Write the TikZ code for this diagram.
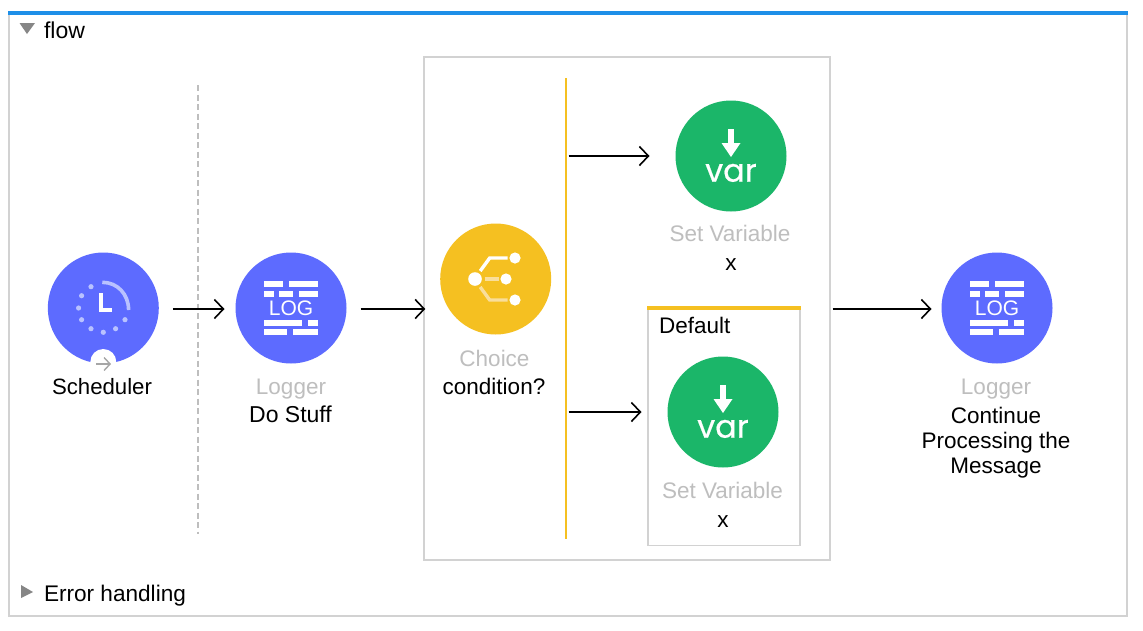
\documentclass[tikz,border=0pt]{standalone}
\usepackage{fontspec}
\setmainfont{Liberation Sans}
\newfontfamily\varfont[FakeBold=0.6]{Poppins}
\usetikzlibrary{arrows.meta}
\definecolor{flowblue}{HTML}{5D6BFF}
\definecolor{gold}{HTML}{F5C021}
\definecolor{vargreen}{HTML}{1BB669}
\definecolor{topblue}{HTML}{1E8FE8}
\definecolor{framegray}{HTML}{D2D2D2}
\definecolor{labelgray}{HTML}{BEBEBE}
\definecolor{softblue}{HTML}{B9C2FF}
\definecolor{softgold}{HTML}{F9DE9B}
\newcommand{\fs}[1]{\fontsize{#1}{#1}\selectfont}
\newcommand{\logicon}[2]{%
  \begin{scope}[shift={(#1)}]
    \foreach \xa/\xb/\ya in {-27/-7.7/-26.7,-1.7/26.7/-26.7,-27/-17/-17.3,-11.7/2.3/-17.3,8/26.7/-17.3,-27/11.3/11.7,17.3/26.7/11.7,-27/-3.7/21,2.3/26.7/21}
      \fill[white] (\xa,\ya) rectangle (\xb,\ya+5.9);
    \node[txt,white,font=\fs{21}] (#2) at (0,7.6) {LOG};
  \end{scope}}
\newcommand{\varicon}[2]{%
  \begin{scope}[shift={(#1)}]
    \fill[white] (-2.7,-27) rectangle (2.7,-12);
    \fill[white] (-9.5,-13) -- (9.5,-13) -- (0,1) -- cycle;
    \node[txt,white,font=\varfont\fs{32}] (#2) at (0,25.7) {var};
  \end{scope}}
\tikzset{
  txt/.style={inner sep=0pt,outer sep=0pt,anchor=base,font=\fs{22.5}},
  lbl/.style={txt,text=black},
  sub/.style={txt,text=labelgray},
  disc/.style={circle,inner sep=0pt,outer sep=0pt,minimum size=111pt},
  conn/.style={black,line width=1.6pt,-{Straight Barb[length=9pt,width=19pt,line width=1.6pt]}},
}
\begin{document}
\begin{tikzpicture}[x=1pt,y=-1pt]
\useasboundingbox (0,0) rectangle (1143,630);
\fill[white] (0,0) rectangle (1143,630);
% outer frame
\draw[framegray,line width=2pt] (9,14) rectangle (1127,616);
\draw[topblue,line width=4pt] (8,13) -- (1128,13);
\fill[gray!95] (19.5,23) -- (35,23) -- (27,34) -- cycle;
\fill[gray!95] (21,585) -- (33,592) -- (21,598) -- cycle;
\node[lbl,anchor=base west,font=\fs{23}] (flowlbl) at (44,38) {flow};
\node[lbl,anchor=base west,font=\fs{22.6}] (errlbl) at (44,601) {Error handling};
% dashed separator
\draw[labelgray,line width=1.3pt,dash pattern=on 6pt off 3.5pt] (198,85) -- (198,534);
% boxes
\node[draw=framegray,line width=1.4pt,inner sep=0pt,minimum width=406pt,minimum height=503pt] (choicebox) at (627,308.5) {};
\node[fill=gold,inner sep=0pt,minimum width=2pt,minimum height=461pt] (router) at (565.5,308.5) {};
\node[draw=framegray,line width=1.4pt,inner sep=0pt,minimum width=152pt,minimum height=237pt] (defbox) at (724,427) {};
\draw[gold,line width=3.5pt] (defbox.north west) -- (defbox.north east);
\node[lbl,anchor=base west] (deflbl) at (659,333) {Default};
% discs
\node[disc,fill=flowblue] (sched) at (103.3,308) {};
\node[disc,fill=flowblue] (log1) at (291,308) {};
\node[disc,fill=gold] (choice) at (495.7,279) {};
\node[disc,fill=vargreen] (var1) at (731,156) {};
\node[disc,fill=vargreen] (var2) at (723,412) {};
\node[disc,fill=flowblue] (log2) at (997,308) {};
% scheduler icon
\begin{scope}[shift={(103.3,308)}]
  \foreach \px/\py in {-12.3/-21.3,-21.7/-12.3,-24.7/0,-21.7/11.7,-12.3/20.7,0/24.3,12.3/20.7,21.7/11.7}
    \fill[softblue] (\px,\py) circle (2.6);
  \draw[softblue,line width=3.6pt] (-1,-25.7) .. controls (14,-25.7) and (25.3,-14) .. (25.3,2);
  \draw[white,line width=4.3pt,line join=miter] (-2.3,-15) -- (-2.3,2.3) -- (9,2.3);
\end{scope}
\node[circle,fill=white,inner sep=0pt,minimum size=26pt] (badge) at (103.3,362) {};
\draw[gray!70,line width=1.4pt,-{Straight Barb[length=6pt,width=13pt,line width=1.4pt]}] (96,364) -- (111,364);
% logger and var icons
\logicon{291,308}{logtxt1}
\logicon{997,308}{logtxt2}
\varicon{731,156}{vartxt1}
\varicon{723,412}{vartxt2}
% choice icon
\begin{scope}[shift={(495.7,279)}]
  \draw[softgold,line width=3.4pt] (-11,0) -- (3,0);
  \draw[softgold,line width=3.4pt] (-15.5,8) -- (-6,21) -- (12,21);
  \draw[white,line width=3.4pt] (-15.5,-8) -- (-6,-21) -- (12,-21);
  \fill[white] (-20.7,0) circle (6.8);
  \fill[white] (10.3,0) circle (5.6);
  \fill[white] (19.3,-21) circle (5.6);
  \fill[white] (19.3,21) circle (5.6);
\end{scope}
% labels
\node[lbl,font=\fs{22.2}] (schedlbl) at (102,394) {Scheduler};
\node[sub] (loglbl1) at (291,394) {Logger};
\node[lbl,font=\fs{23}] (stuff) at (290.5,422.7) {Do Stuff};
\node[sub] (choicelbl) at (494.5,366) {Choice};
\node[lbl] (cond) at (494,394) {condition?};
\node[sub] (setlbl1) at (730,241.5) {Set Variable};
\node[lbl] (xa) at (731,270) {x};
\node[sub] (setlbl2) at (722.5,498) {Set Variable};
\node[lbl] (xb) at (723,527) {x};
\node[sub] (loglbl2) at (996,394) {Logger};
\node[lbl] (cont1) at (996,423) {Continue};
\node[lbl] (cont2) at (996,448) {Processing the};
\node[lbl] (cont3) at (996,473) {Message};
% connectors
\draw[conn,shorten <=14pt,shorten >=11pt] ([yshift=-1pt]sched.east) -- ([yshift=-1pt]log1.west);
\draw[conn,shorten <=14pt,shorten >=-2pt] ([yshift=-1pt]log1.east) -- ([yshift=-1pt]log1.east -| choicebox.west);
\draw[conn,shorten <=2pt,shorten >=26pt] (router.east |- var1.west) -- (var1.west);
\draw[conn,shorten <=2pt,shorten >=26pt] (router.east |- var2.west) -- (var2.west);
\draw[conn,shorten <=2pt,shorten >=10pt] ([yshift=-1pt]log2.west -| choicebox.east) -- ([yshift=-1pt]log2.west);
\end{tikzpicture}
\end{document}
